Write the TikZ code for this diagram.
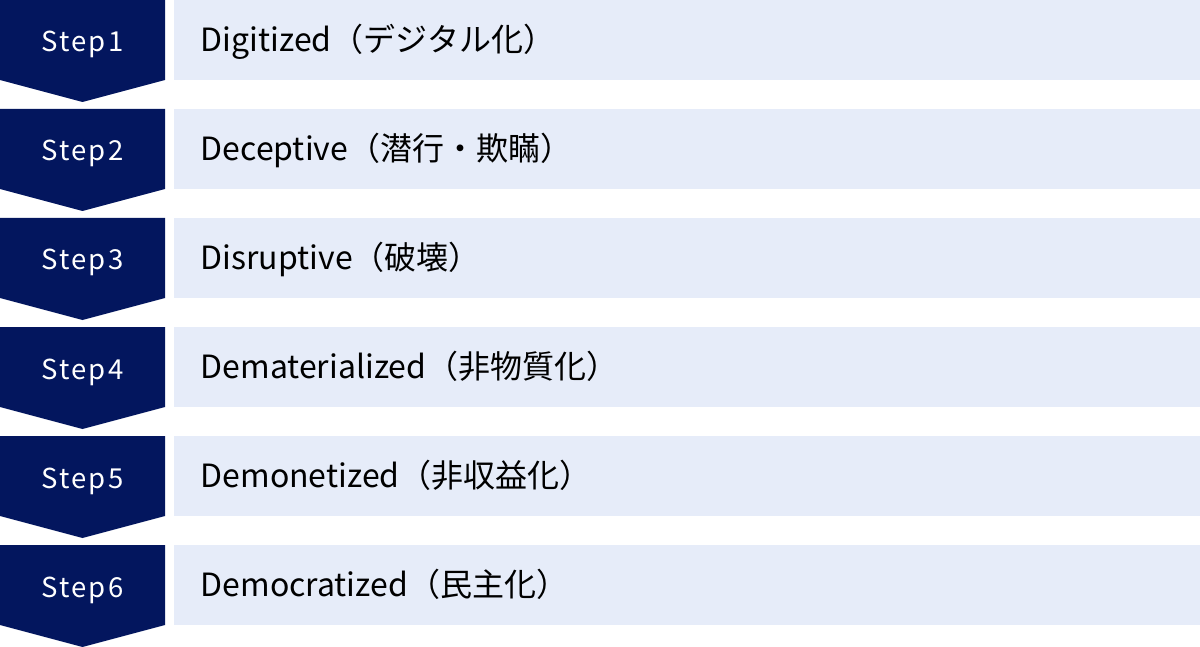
\documentclass[tikz,border=0pt]{standalone}
\usepackage{fontspec}
\setmainfont{Noto Sans CJK JP}
\newfontfamily\stepfont[LetterSpace=8]{Noto Sans CJK JP}
\definecolor{navy}{RGB}{3,22,94}
\definecolor{lightbox}{RGB}{230,236,249}
\begin{document}
\begin{tikzpicture}[x=1pt,y=-1pt,
  chev/.style={fill=navy,draw=none},
  stepbox/.style={fill=lightbox,draw=none},
  steplabel/.style={text=white,font=\stepfont\fontsize{27.5}{32}\selectfont,inner sep=0pt,anchor=base},
  mainlabel/.style={text=black,font=\fontsize{32}{36}\selectfont,inner sep=0pt,anchor=base west}]
\useasboundingbox (0,0) rectangle (1200,647);
\foreach \i/\t in {1/{Digitized（デジタル化）},2/{Deceptive（潜行・欺瞞）},3/{Disruptive（破壊）},4/{Dematerialized（非物質化）},5/{Demonetized（非収益化）},6/{Democratized（民主化）}}{
  \pgfmathsetmacro{\yy}{(\i-1)*109}
  \fill[chev] (0,\yy) -- (165,\yy) -- (165,\yy+80) -- (82.5,\yy+102) -- (0,\yy+80) -- cycle;
  \fill[stepbox] (174,\yy) rectangle (1200,\yy+80);
  \node[steplabel] (s\i) at (82.5,\yy+52) {Step\i};
  \node[mainlabel] (m\i) at (200.5,\yy+51.5) {\t};
}
\end{tikzpicture}
\end{document}
